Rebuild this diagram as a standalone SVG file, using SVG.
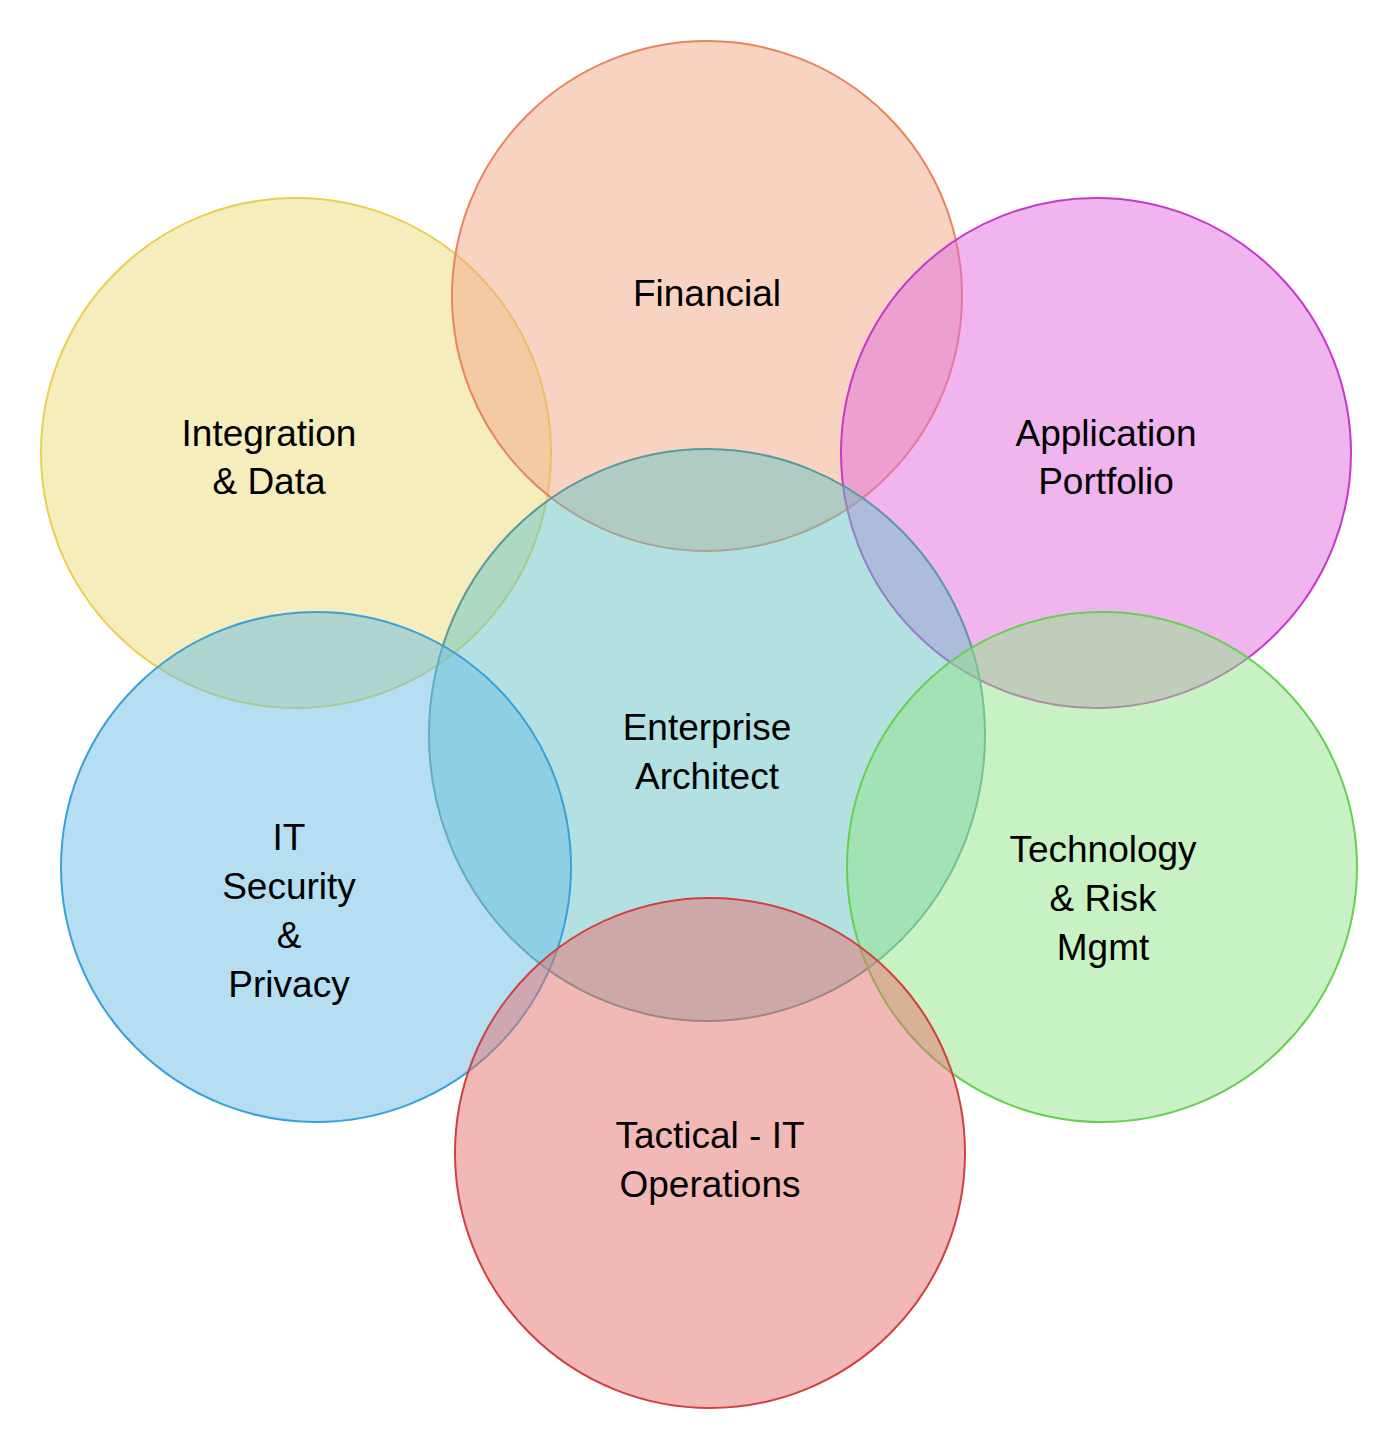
<svg xmlns="http://www.w3.org/2000/svg" width="1400" height="1450" viewBox="0 0 1400 1450">
<style>
.c{fill-opacity:0.5;stroke-width:2}
text{font-family:"Liberation Sans",Arial,sans-serif;font-size:37px;fill:#000;text-anchor:middle}
</style>
<rect width="1400" height="1450" fill="#fff"/>
<g id="integration"><circle class="c" cx="296" cy="453" r="255" fill="#ebdb79" stroke="#e8d050"/></g>
<g id="financial"><circle class="c" cx="707" cy="296" r="255" fill="#f1a785" stroke="#e8845a"/></g>
<g id="application"><circle class="c" cx="1096" cy="453" r="255" fill="#e16bdf" stroke="#c838c8"/></g>
<g id="enterprise"><ellipse class="c" cx="707" cy="735" rx="278" ry="286" fill="#67c3c5" stroke="#5a9a9a"/></g>
<g id="security"><circle class="c" cx="316" cy="867" r="255" fill="#6bbde5" stroke="#3aa0d8"/></g>
<g id="technology"><circle class="c" cx="1102" cy="867" r="255" fill="#91e587" stroke="#66d050"/></g>
<g id="tactical"><circle class="c" cx="710" cy="1153" r="255" fill="#e5716d" stroke="#d04040"/></g>
<g id="labels">
<text x="707" y="306">Financial</text>
<text x="269" y="446">Integration</text><text x="269" y="494">&amp; Data</text>
<text x="1106" y="446">Application</text><text x="1106" y="494">Portfolio</text>
<text x="707" y="740">Enterprise</text><text x="707" y="789">Architect</text>
<text x="289" y="850">IT</text><text x="289" y="899">Security</text><text x="289" y="948">&amp;</text><text x="289" y="997">Privacy</text>
<text x="1103" y="862">Technology</text><text x="1103" y="911">&amp; Risk</text><text x="1103" y="960">Mgmt</text>
<text x="710" y="1148">Tactical - IT</text><text x="710" y="1197">Operations</text>
</g>
</svg>
